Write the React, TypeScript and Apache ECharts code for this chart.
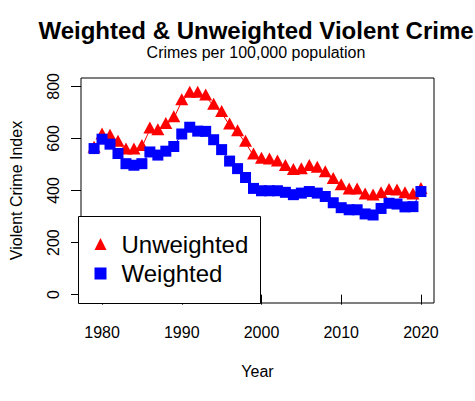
import React, { useEffect, useRef } from 'react';
import * as echarts from 'echarts';

const years = [
  1979, 1980, 1981, 1982, 1983, 1984, 1985, 1986, 1987, 1988, 1989, 1990, 1991, 1992,
  1993, 1994, 1995, 1996, 1997, 1998, 1999, 2000, 2001, 2002, 2003, 2004, 2005, 2006,
  2007, 2008, 2009, 2010, 2011, 2012, 2013, 2014, 2015, 2016, 2017, 2018, 2019, 2020,
];

const unweighted = [
  560, 611, 606, 583, 554, 554, 567, 634, 628, 652, 677, 743, 772, 772,
  761, 725, 698, 650, 624, 583, 534, 518, 515, 508, 490, 475, 478, 490,
  484, 466, 440, 416, 400, 400, 381, 377, 386, 398, 396, 386, 381, 402,
];

const weighted = [
  561, 597, 578, 542, 503, 497, 503, 548, 536, 551, 569, 617, 643, 628,
  627, 595, 557, 513, 484, 450, 408, 399, 399, 399, 393, 384, 390, 396,
  390, 377, 353, 334, 326, 326, 310, 306, 331, 351, 348, 337, 338, 396,
];

const xTicks = [1980, 1990, 2000, 2010, 2020];
const yTicks = [0, 200, 400, 600, 800];

const FONT = '"Liberation Sans", Arial, Helvetica, sans-serif';

export default function App() {
  const ref = useRef<HTMLDivElement>(null);

  useEffect(() => {
    if (!ref.current) return;
    const chart = echarts.init(ref.current, null, { renderer: 'svg' });
    chart.setOption({
      animation: false,
      backgroundColor: '#ffffff',
      textStyle: { fontFamily: FONT, color: '#000' },
      title: [
        {
          text: 'Weighted & Unweighted Violent Crime',
          left: 256,
          top: 18,
          padding: 0,
          textAlign: 'center',
          textStyle: { fontSize: 24, fontWeight: 'bold', color: '#000', fontFamily: FONT },
        },
        {
          text: 'Crimes per 100,000 population',
          left: 256,
          top: 44,
          padding: 0,
          textAlign: 'center',
          textStyle: { fontSize: 16, fontWeight: 'normal', color: '#000', fontFamily: FONT },
        },
      ],
      grid: {
        left: 78,
        top: 78,
        width: 356,
        height: 225,
        show: true,
        borderColor: '#000',
        borderWidth: 1,
        backgroundColor: 'transparent',
      },
      xAxis: {
        type: 'value',
        min: 1977.36,
        max: 2021.64,
        axisLine: { show: false },
        axisTick: { show: true, length: 10, inside: false, customValues: xTicks, lineStyle: { color: '#000' } },
        axisLabel: {
          customValues: xTicks,
          formatter: (v: number) => String(v),
          margin: 21,
          fontSize: 16,
          color: '#000',
          fontFamily: FONT,
        },
        splitLine: { show: false },
        name: 'Year',
        nameLocation: 'middle',
        nameGap: 60,
        nameTextStyle: { fontSize: 16, color: '#000', fontFamily: FONT },
      },
      yAxis: {
        type: 'value',
        min: -32,
        max: 832,
        axisLine: { show: false },
        axisTick: { show: true, length: 10, inside: false, customValues: yTicks, lineStyle: { color: '#000' } },
        axisLabel: {
          customValues: yTicks,
          formatter: (v: number) => String(v),
          rotate: 90,
          margin: 20,
          fontSize: 16,
          color: '#000',
          fontFamily: FONT,
        },
        splitLine: { show: false },
        name: 'Violent Crime Index',
        nameLocation: 'middle',
        nameRotate: 90,
        nameGap: 57,
        nameTextStyle: { fontSize: 16, color: '#000', fontFamily: FONT },
      },
      graphic: [
        {
          type: 'rect',
          z: 3,
          shape: { x: 78.5, y: 216.5, width: 182, height: 87 },
          style: { fill: '#ffffff', stroke: '#000', lineWidth: 1 },
          silent: true,
        },
      ],
      legend: {
        orient: 'vertical',
        left: 94.5,
        top: 232,
        padding: 0,
        itemWidth: 12,
        itemHeight: 12,
        itemGap: 5.5,
        selectedMode: false,
        z: 10,
        textStyle: { fontSize: 24, color: '#000', fontFamily: FONT, padding: [0, 0, 0, 10] },
        data: [
          { name: 'Unweighted', icon: 'triangle' },
          { name: 'Weighted', icon: 'rect' },
        ],
      },
      series: [
        {
          name: 'Unweighted',
          type: 'line',
          data: years.map((y, i) => [y, unweighted[i]]),
          symbol: 'triangle',
          symbolSize: [13, 12],
          symbolOffset: [0, -2],
          lineStyle: { width: 1, color: '#ff0000' },
          itemStyle: { color: '#ff0000' },
          emphasis: { disabled: true },
          z: 2,
        },
        {
          name: 'Weighted',
          type: 'line',
          data: years.map((y, i) => [y, weighted[i]]),
          symbol: 'rect',
          symbolSize: 11,
          lineStyle: { width: 1, color: '#0000ff' },
          itemStyle: { color: '#0000ff' },
          emphasis: { disabled: true },
          z: 2,
        },
      ],
    });
    return () => chart.dispose();
  }, []);

  return (
    <div
      ref={ref}
      style={{ position: 'absolute', left: 0, top: 0, width: 475, height: 401, background: '#fff' }}
    />
  );
}
